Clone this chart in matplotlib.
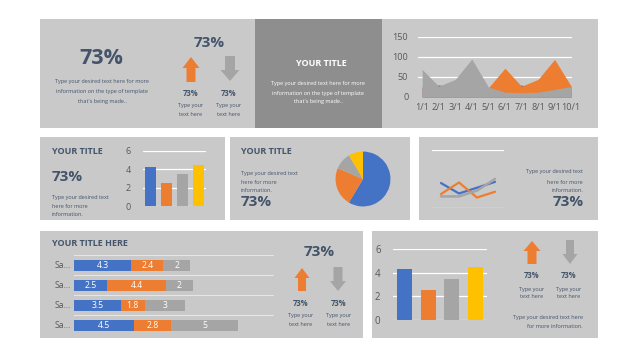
import matplotlib
matplotlib.use("Agg")
import matplotlib.pyplot as plt
from matplotlib.patches import Rectangle, Polygon

plt.rcParams['font.family'] = ['Open Sans', 'DejaVu Sans']

# ---------------- data ----------------
area_dates = ['1/1', '2/1', '3/1', '4/1', '5/1', '6/1', '7/1', '8/1', '9/1', '10/1']
area_blue = [25, 30, 25, 25, 18, 18, 30, 18, 18, 18]
area_orange = [20, 12, 15, 20, 23, 72, 27, 44, 94, 27]
area_gray = [69, 27, 44, 95, 25, 12, 11, 12, 19, 26]
area_yticks = [0, 50, 100, 150]

bar_vals = [4.3, 2.5, 3.5, 4.5]
bar_yticks = [0, 2, 4, 6]

pie_vals = [8.2, 3.2, 1.4, 1.2]

line_s1 = [4.3, 2.5, 3.5, 4.5]
line_s2 = [2.4, 4.4, 1.8, 2.8]
line_s3 = [2, 2, 3, 5]

hbar_cats = ['Sa...', 'Sa...', 'Sa...', 'Sa...']
hbar_s1 = [4.3, 2.5, 3.5, 4.5]
hbar_s2 = [2.4, 4.4, 1.8, 2.8]
hbar_s3 = [2, 2, 3, 5]

# ---------------- style ----------------
BLUE, ORANGE, GRAY, YELLOW = '#4472c4', '#ed7d31', '#a5a5a5', '#ffc000'
PANEL, DARK = '#c9c9c9', '#8e8e8e'
TXT = '#44546a'
TICK = '#595959'

W, H = 638, 359
fig = plt.figure(figsize=(W / 100, H / 100), dpi=100)
fig.patch.set_facecolor('white')

bg = fig.add_axes([0, 0, 1, 1])
bg.set_xlim(0, W)
bg.set_ylim(H, 0)
bg.axis('off')


def add_ax(x0, y0, x1, y1):
    a = fig.add_axes([x0 / W, 1 - y1 / H, (x1 - x0) / W, (y1 - y0) / H])
    a.patch.set_alpha(0)
    for s in a.spines.values():
        s.set_visible(False)
    return a


def panel(x0, y0, x1, y1, color=PANEL):
    bg.add_patch(Rectangle((x0, y0), x1 - x0, y1 - y0, facecolor=color, edgecolor='none'))


def arrow(cx, ytop, ybot, up, color, hw=16, sw=9, hh=10):
    if up:
        pts = [(cx, ytop), (cx + hw / 2, ytop + hh), (cx + sw / 2, ytop + hh), (cx + sw / 2, ybot),
               (cx - sw / 2, ybot), (cx - sw / 2, ytop + hh), (cx - hw / 2, ytop + hh)]
    else:
        pts = [(cx, ybot), (cx + hw / 2, ybot - hh), (cx + sw / 2, ybot - hh), (cx + sw / 2, ytop),
               (cx - sw / 2, ytop), (cx - sw / 2, ybot - hh), (cx - hw / 2, ybot - hh)]
    bg.add_patch(Polygon(pts, closed=True, facecolor=color, edgecolor='none'))


def txt(x, y, s, size=4.0, ha='center', weight='normal', color=TXT):
    bg.text(x, y, s, fontsize=size, ha=ha, va='center', fontweight=weight, color=color)


# ---------------- panels ----------------
panel(40, 19, 255, 128)
panel(255, 19, 382, 128, DARK)
panel(382, 19, 598, 128)
panel(40, 137, 225, 220)
panel(230, 137, 410, 220)
panel(419, 137, 598, 220)
panel(40, 231, 363, 338)
panel(372, 231, 598, 338)

# ---------------- panel 1 ----------------
txt(101, 58, '73%', 15.5, weight='bold')
txt(102, 82, 'Type your desired text here for more')
txt(102, 92, 'information on the type of template')
txt(102, 102, "that's being made..")
txt(209, 43, '73%', 11, weight='bold')
arrow(191, 57, 82, True, ORANGE, hw=17, sw=9, hh=11)
arrow(230, 56, 81, False, GRAY, hw=19, sw=10, hh=11)
for cx in (191, 229):
    txt(cx, 94, '73%', 5.5, weight='bold')
    txt(cx, 106, 'Type your', 4.0)
    txt(cx, 115, 'text here', 4.0)

# ---------------- panel 2 ----------------
txt(321, 63, 'YOUR TITLE', 6.5, weight='bold', color='white')
txt(318, 83, 'Type your desired text here for more', color='white')
txt(318, 93, 'information on the type of template', color='white')
txt(318, 102, "that's being made..", color='white')

# ---------------- panel 3 : area chart ----------------
a3 = add_ax(418, 37, 572, 97)
xs = list(range(len(area_dates)))
a3.fill_between(xs, 0, area_blue, color=BLUE, lw=0, zorder=2)
a3.fill_between(xs, 0, area_orange, color=ORANGE, lw=0, zorder=3)
a3.fill_between(xs, 0, area_gray, color=GRAY, lw=0, zorder=4)
for v in area_yticks[1:]:
    a3.axhline(v, color='white', lw=0.9, zorder=1)
a3.set_xlim(-0.25, 9.05)
a3.set_ylim(0, 150)
a3.set_yticks(area_yticks)
a3.set_xticks(xs)
a3.set_xticklabels(area_dates)
a3.tick_params(length=0, labelsize=6.6, colors=TICK, pad=4)
a3.tick_params(axis='y', pad=7)

# ---------------- panel A : bar chart ----------------
txt(52, 152, 'YOUR TITLE', 6.5, ha='left', weight='bold')
txt(52, 177, '73%', 11, ha='left', weight='bold')
txt(52, 197, 'Type your desired text', ha='left')
txt(52, 206, 'here for more', ha='left')
txt(52, 215, 'information.', ha='left')

aA = add_ax(143, 151, 206, 206)
aA.bar(range(4), bar_vals, width=0.7, color=[BLUE, ORANGE, GRAY, YELLOW], zorder=3)
for v in bar_yticks:
    aA.axhline(v, color='white', lw=0.9, zorder=1)
aA.set_xlim(-0.5, 3.5)
aA.set_ylim(0, 6)
aA.set_yticks(bar_yticks)
aA.set_xticks([])
aA.tick_params(length=0, labelsize=6.5, colors=TICK, pad=9)

# ---------------- panel B : pie ----------------
txt(241, 152, 'YOUR TITLE', 6.5, ha='left', weight='bold')
txt(241, 173, 'Type your desired text', ha='left')
txt(241, 182, 'here for more', ha='left')
txt(241, 191, 'information.', ha='left')
txt(241, 202, '73%', 11, ha='left', weight='bold')

aB = add_ax(335, 151, 391, 207)
aB.pie(pie_vals, colors=[BLUE, ORANGE, GRAY, YELLOW], startangle=90, counterclock=False,
       wedgeprops=dict(edgecolor='none'))
aB.set_xlim(-1.02, 1.02)
aB.set_ylim(-1.02, 1.02)
aB.set_aspect('equal')

# ---------------- panel C : line chart ----------------
aC = add_ax(432, 150, 504, 208)
aC.axhline(0, color='white', lw=0.9, zorder=1)
aC.axhline(10, color='white', lw=0.9, zorder=1)
aC.plot(range(4), line_s1, color=BLUE, lw=1.6, zorder=3, solid_capstyle='round')
aC.plot(range(4), line_s2, color=ORANGE, lw=1.6, zorder=4, solid_capstyle='round')
aC.plot(range(4), line_s3, color=GRAY, lw=1.8, zorder=5, solid_capstyle='round')
aC.set_xlim(-0.5, 3.5)
aC.set_ylim(0, 10)
aC.set_xticks([])
aC.set_yticks([])
txt(583, 172, 'Type your desired text', ha='right')
txt(583, 182, 'here for more', ha='right')
txt(583, 191, 'information.', ha='right')
txt(584, 202, '73%', 11, ha='right', weight='bold')

# ---------------- panel D : stacked bars ----------------
txt(52, 243, 'YOUR TITLE HERE', 6.5, ha='left', weight='bold')
aD = add_ax(74, 255, 274, 335)
ys = list(range(len(hbar_cats)))
left2 = hbar_s1
left3 = [a + b for a, b in zip(hbar_s1, hbar_s2)]
for vals, left, col in ((hbar_s1, [0] * 4, BLUE), (hbar_s2, left2, ORANGE), (hbar_s3, left3, GRAY)):
    bars = aD.barh(ys, vals, left=left, height=0.55, color=col, zorder=3)
    aD.bar_label(bars, labels=[f'{v:g}' for v in vals], label_type='center',
                 color='white', fontsize=6.3)
for b in [-0.5, 0.5, 1.5, 2.5, 3.5]:
    aD.axhline(b, color='#e6e6e6', lw=0.8, zorder=1)
aD.set_xlim(0, 15)
aD.set_ylim(3.5, -0.5)
aD.set_xticks([])
aD.set_yticks(ys)
aD.set_yticklabels(hbar_cats)
aD.tick_params(length=0, labelsize=6.3, colors=TICK, pad=2)

txt(319, 252, '73%', 11, weight='bold')
arrow(302, 268, 291, True, ORANGE, hw=15, sw=8)
arrow(338, 267, 291, False, GRAY, hw=16, sw=9)
for cx in (301, 339):
    txt(cx, 304, '73%', 5.5, weight='bold')
    txt(cx, 316, 'Type your', 4.0)
    txt(cx, 325, 'text here', 4.0)

# ---------------- panel E : bar chart ----------------
aE = add_ax(393, 249, 487, 320)
aE.bar(range(4), bar_vals, width=0.64, color=[BLUE, ORANGE, GRAY, YELLOW], zorder=3)
for v in bar_yticks:
    aE.axhline(v, color='white', lw=0.9, zorder=1)
aE.set_xlim(-0.5, 3.5)
aE.set_ylim(0, 6)
aE.set_yticks(bar_yticks)
aE.set_xticks([])
aE.tick_params(length=0, labelsize=7, colors=TICK, pad=9)

arrow(532, 241, 264, True, ORANGE, hw=17, sw=9)
arrow(570, 240, 264, False, GRAY, hw=15, sw=8)
for cx in (532, 569):
    txt(cx, 276, '73%', 5.5, weight='bold')
    txt(cx, 289, 'Type your', 4.0)
    txt(cx, 297, 'text here', 4.0)
txt(583, 317, 'Type your desired text here', ha='right')
txt(583, 327, 'for more information.', ha='right')

fig.savefig('out.png', dpi=100, facecolor='white')
